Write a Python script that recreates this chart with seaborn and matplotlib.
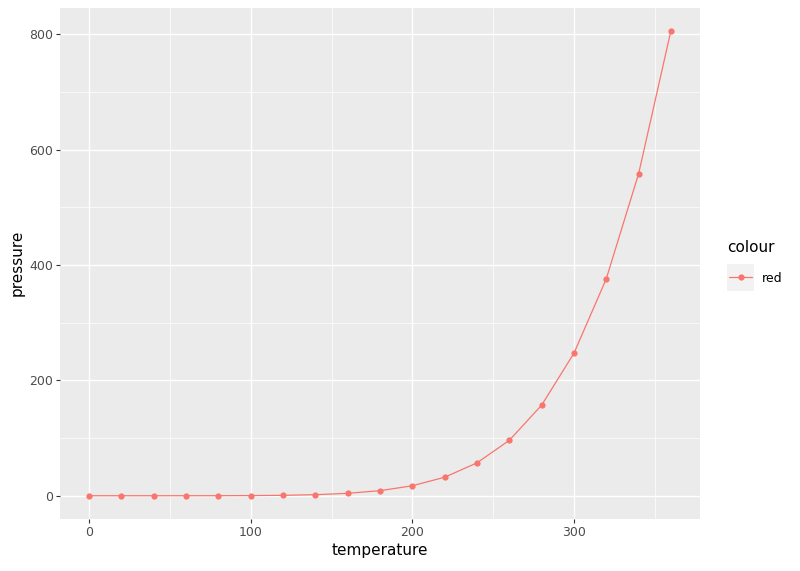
import matplotlib
matplotlib.use("Agg")
import matplotlib.pyplot as plt
import matplotlib.ticker as ticker
from matplotlib.lines import Line2D
from matplotlib.patches import Rectangle
import seaborn as sns
import pandas as pd

# R's pressure dataset
temperature = [0, 20, 40, 60, 80, 100, 120, 140, 160, 180,
               200, 220, 240, 260, 280, 300, 320, 340, 360]
pressure = [0.0002, 0.0012, 0.006, 0.03, 0.09, 0.27, 0.75, 1.85, 4.2, 8.8,
            17.3, 32.1, 57.0, 96.0, 157.0, 247.0, 376.0, 558.0, 806.0]
colour = ["red"] * len(temperature)
line_colour = "#F8766D"

df = pd.DataFrame({"temperature": temperature, "pressure": pressure, "colour": colour})

sns.set_theme(style="darkgrid", rc={
    "axes.facecolor": "#EBEBEB",
    "grid.color": "white",
    "axes.edgecolor": "#EBEBEB",
})
plt.rcParams["font.family"] = ["DejaVu Sans"]

W, H = 800, 571
fig = plt.figure(figsize=(W / 100, H / 100), dpi=100)
ax = fig.add_axes([60 / W, 1 - 519 / H, (700 - 60) / W, (519 - 7.5) / H])

sns.lineplot(data=df, x="temperature", y="pressure", hue="colour",
             palette={"red": line_colour}, marker="o", markersize=4.5,
             markeredgewidth=0, linewidth=0.9, ax=ax, legend=False)

ax.set_xlim(-18, 378)
ax.set_ylim(-40.3, 846.3)
ax.xaxis.set_major_locator(ticker.MultipleLocator(100))
ax.xaxis.set_minor_locator(ticker.MultipleLocator(50))
ax.yaxis.set_major_locator(ticker.MultipleLocator(200))
ax.yaxis.set_minor_locator(ticker.MultipleLocator(100))
ax.grid(which="major", color="white", linewidth=1.0)
ax.grid(which="minor", color="white", linewidth=0.5)
for s in ax.spines.values():
    s.set_visible(False)

ax.tick_params(axis="both", which="major", labelsize=9, labelcolor="#4D4D4D",
               length=3, color="#333333", width=0.8, pad=2, bottom=True, left=True)
ax.tick_params(axis="both", which="minor", length=0)
ax.set_xlabel("temperature", fontsize=11, color="black", labelpad=3)
ax.set_ylabel("pressure", fontsize=11, color="black", labelpad=3)

# ggplot-style legend on the right
fig.text(727 / W, 1 - 247 / H, "colour", fontsize=11, color="black", va="center", ha="left")
fig.add_artist(Rectangle((727 / W, 1 - 291 / H), 27 / W, 27 / H, transform=fig.transFigure,
                         facecolor="#F2F2F2", edgecolor="none"))
fig.add_artist(Line2D([729 / W, 752 / W], [1 - 277.5 / H, 1 - 277.5 / H], transform=fig.transFigure,
                      color=line_colour, linewidth=0.9))
fig.add_artist(Line2D([740.5 / W], [1 - 277.5 / H], transform=fig.transFigure,
                      color=line_colour, marker="o", markersize=4.5, markeredgewidth=0))
fig.text(762 / W, 1 - 278 / H, "red", fontsize=9, color="black", va="center", ha="left")

fig.savefig("out.png", dpi=100)
